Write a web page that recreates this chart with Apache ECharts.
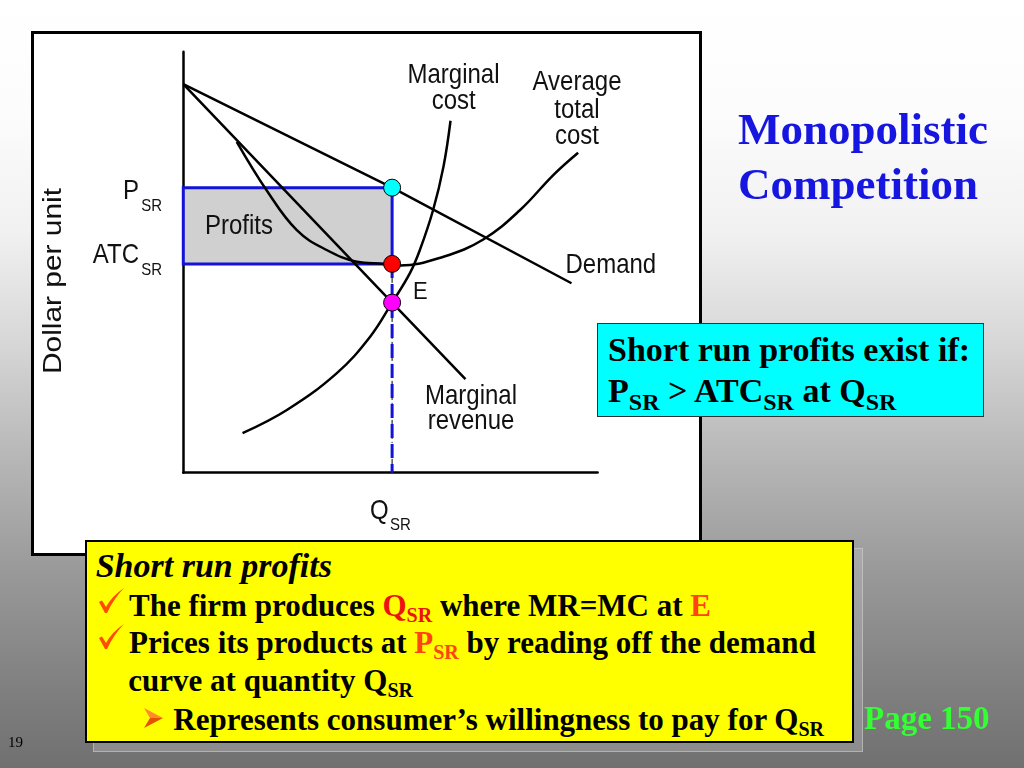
<!DOCTYPE html>
<html>
<head>
<meta charset="utf-8">
<script src="https://cdn.jsdelivr.net/npm/echarts@6/dist/echarts.min.js"></script>
<style>
html,body{margin:0;padding:0;width:1024px;height:768px;overflow:hidden;}
body{background:linear-gradient(to bottom,#ffffff 0%,#fcfcfc 15%,#f1f1f1 30%,#d6d6d6 45%,#b6b6b6 60%,#989898 75%,#7f7f7f 90%,#707070 100%);position:relative;font-family:"Liberation Serif","Times New Roman",serif;}
.abs{position:absolute;white-space:nowrap;}
#panel{left:31px;top:31px;width:665px;height:519px;background:#fff;border:3px solid #000;z-index:1;}
#chart{left:0;top:0;width:1024px;height:768px;z-index:2;}
#title{left:738px;top:102.2px;font-size:45px;line-height:55px;font-weight:bold;color:#1616e0;z-index:3;}
#cyan{left:597px;top:323px;width:385px;height:92px;background:#00ffff;border:1px solid #333;z-index:3;}
#cyanText{left:608px;top:328.7px;font-size:34px;line-height:41px;font-weight:bold;color:#000;z-index:4;}
#cyanText .s{font-size:24px;position:relative;top:8px;line-height:0;}
#shadow{left:93px;top:548px;width:768px;height:202px;background:rgba(190,190,190,0.35);border:1px solid rgba(215,215,215,0.5);z-index:3;}
#yellow{left:85px;top:540px;width:765px;height:199px;background:#ffff00;border:2px solid #000;z-index:4;}
.yl{font-size:31px;line-height:38px;font-weight:bold;color:#000;z-index:5;}
.yl .s{font-size:20px;position:relative;top:6px;line-height:0;}
.red{color:#ee1111;}
.org{color:#ff4411;}
#page{left:864px;top:698.9px;font-size:33px;line-height:38px;font-weight:bold;color:#33ff33;z-index:5;}
#num{left:8px;top:732px;font-size:15px;line-height:20px;color:#000;z-index:5;}
#marks{left:0;top:0;width:1024px;height:768px;z-index:6;pointer-events:none;}
</style>
</head>
<body>
<div id="panel" class="abs"></div>
<div id="chart" class="abs"></div>
<div id="title" class="abs">Monopolistic<br>Competition</div>
<div id="cyan" class="abs"></div>
<div id="cyanText" class="abs">Short run profits exist if:<br>P<span class="s">SR</span> &gt; ATC<span class="s">SR</span> at Q<span class="s">SR</span></div>
<div id="shadow" class="abs"></div>
<div id="yellow" class="abs"></div>
<div class="abs yl" style="left:95.7px;top:546.5px;font-style:italic;font-size:34px;">Short run profits</div>
<div class="abs yl" style="left:129px;top:587.2px;">The firm produces <span class="red">Q<span class="s">SR</span></span> where MR=MC at <span class="org">E</span></div>
<div class="abs yl" style="left:129px;top:623.8px;">Prices its products at <span class="org">P<span class="s">SR</span></span> by reading off the demand</div>
<div class="abs yl" style="left:128.3px;top:662.2px;">curve at quantity Q<span class="s">SR</span></div>
<div class="abs yl" style="left:173.3px;top:700.5px;">Represents consumer’s willingness to pay for Q<span class="s">SR</span></div>
<svg id="marks" class="abs" viewBox="0 0 1024 768">
  <defs>
    <g id="chk"><path d="M0,12 L3,10.5 L7,17 Q13,6 25,-2 Q15,8 8,23 L6,23 Z" fill="#ff4a00"/></g>
  </defs>
  <use href="#chk" x="99" y="590"/>
  <use href="#chk" x="99" y="626"/>
  <path d="M144,708 L163,718 L150,718 Z" fill="#ff8a2a"/>
  <path d="M144,728 L163,718 L150,718 Z" fill="#e65000"/>
</svg>
<div id="page" class="abs">Page 150</div>
<div id="num" class="abs">19</div>
<script>
// ---- data (quantity 0..100, dollars per unit 0..100) ----
const qSR = 50.4;          // Q_SR
const pSR = 67.7;          // P_SR (demand at Q_SR)
const atcSR = 49.6;        // ATC_SR (ATC at Q_SR)
const eMR = 40.4;          // E: MR = MC at Q_SR
const demandPts = [[0, 92.3], [50.4, 67.7], [93.7, 45.0]];
const mrPts = [[0, 92.3], [50.4, 40.4], [68.1, 22.2]];
const atcPts = [[12.9, 78.6], [20.1, 67.1], [27.4, 57.6], [34.6, 52.9], [41.9, 50.1], [48.3, 49.6], [52.3, 49.2], [62.8, 51.3], [72.4, 55.4], [81.3, 62.4], [89.3, 70.7], [95.3, 76.0]];
const mcPts = [[14.3, 9.4], [25.0, 14.9], [37.0, 23.6], [45.1, 32.3], [50.4, 40.4], [54.7, 47.4], [57.1, 52.9], [60.3, 62.4], [62.8, 72.7], [64.5, 83.6]];

const BLUE = '#1212d8';
const chart = echarts.init(document.getElementById('chart'), null, {renderer: 'canvas'});
const blackLine = {color: '#000', width: 2.5};

chart.setOption({
  backgroundColor: 'transparent',
  animation: false,
  grid: {left: 183.3, top: 51.7, width: 414.3, height: 421},
  xAxis: {type: 'value', min: 0, max: 100, axisLine: {lineStyle: {color: '#000', width: 2.5}}, axisTick: {show: false}, axisLabel: {show: false}, splitLine: {show: false}},
  yAxis: {type: 'value', min: 0, max: 100, axisLine: {show: true, lineStyle: {color: '#000', width: 2.5}}, axisTick: {show: false}, axisLabel: {show: false}, splitLine: {show: false}},
  series: [
    {type: 'line', data: [], z: 1, silent: true,
     markArea: {silent: true, itemStyle: {color: '#d0d0d0', borderColor: BLUE, borderWidth: 3},
       data: [[{coord: [0, pSR]}, {coord: [qSR, atcSR]}]]}},
    {type: 'line', data: [[qSR, atcSR], [qSR, 0]], z: 2, symbol: 'none', lineStyle: {color: '#000', width: 1, type: [6, 3, 1, 3]}},
    {type: 'line', data: [[qSR, atcSR], [qSR, 0]], z: 3, symbol: 'none', lineStyle: {color: BLUE, width: 3, type: [14, 6]}},
    {type: 'line', name: 'Demand', data: demandPts, z: 4, symbol: 'none', lineStyle: blackLine},
    {type: 'line', name: 'Marginal revenue', data: mrPts, z: 4, symbol: 'none', lineStyle: blackLine},
    {type: 'line', name: 'Average total cost', data: atcPts, smooth: 0.4, z: 4, symbol: 'none', lineStyle: blackLine},
    {type: 'line', name: 'Marginal cost', data: mcPts, smooth: 0.4, z: 4, symbol: 'none', lineStyle: blackLine},
    {type: 'scatter', z: 6, symbolSize: 17,
     data: [
       {value: [qSR, pSR], itemStyle: {color: '#00ffff'}},
       {value: [qSR, atcSR], itemStyle: {color: '#ff0000'}},
       {value: [qSR, eMR], itemStyle: {color: '#ff00ff'}}
     ],
     itemStyle: {borderColor: '#000', borderWidth: 1, opacity: 1}}
  ]
});

function lbl(text, x, base, opt) {
  opt = opt || {};
  const fs = opt.fs || 24;
  const al = opt.align || 'left';
  return {type: 'text', x: x, y: base, scaleX: opt.sx || 1, scaleY: opt.sy || 1.12, rotation: opt.rot || 0, z: 100,
    style: {text: text, x: 0, y: -0.31 * fs, fontSize: fs, fontFamily: '"Liberation Sans", Arial, sans-serif',
      fill: '#111', textAlign: al, textVerticalAlign: 'middle', align: al, verticalAlign: 'middle'}};
}
const pP = chart.convertToPixel({gridIndex: 0}, [qSR, pSR]);
const pA = chart.convertToPixel({gridIndex: 0}, [qSR, atcSR]);
const pQ = chart.convertToPixel({gridIndex: 0}, [qSR, 0]);
const pD = chart.convertToPixel({gridIndex: 0}, demandPts[demandPts.length - 1]);
const pE = chart.convertToPixel({gridIndex: 0}, [qSR, eMR]);

chart.setOption({
  graphic: [
    lbl('Marginal', 453.5, 83.6, {align: 'center'}),
    lbl('cost', 453.7, 109.7, {align: 'center'}),
    lbl('Average', 577, 91, {align: 'center'}),
    lbl('total', 577, 118.9, {align: 'center'}),
    lbl('cost', 577, 145.3, {align: 'center'}),
    lbl('Demand', pD[0] - 6, 274, {}),
    lbl('E', pE[0] + 21, 300, {fs: 22}),
    lbl('Marginal', 471, 404.8, {align: 'center'}),
    lbl('revenue', 471, 430.3, {align: 'center'}),
    lbl('Profits', 205, 235, {}),
    lbl('P', 139, pP[1] + 12.5, {align: 'right'}),
    lbl('SR', 162, pP[1] + 24, {align: 'right', fs: 15}),
    lbl('ATC', 139, pA[1], {align: 'right'}),
    lbl('SR', 162, pA[1] + 12, {align: 'right', fs: 15}),
    lbl('Q', pQ[0] - 22, pQ[1] + 47.5, {}),
    lbl('SR', pQ[0] - 2, pQ[1] + 57.5, {fs: 15}),
    lbl('Dollar per unit', 62, 281, {align: 'center', fs: 26, sx: 1.15, sy: 1, rot: Math.PI / 2})
  ]
});
</script>
</body>
</html>
